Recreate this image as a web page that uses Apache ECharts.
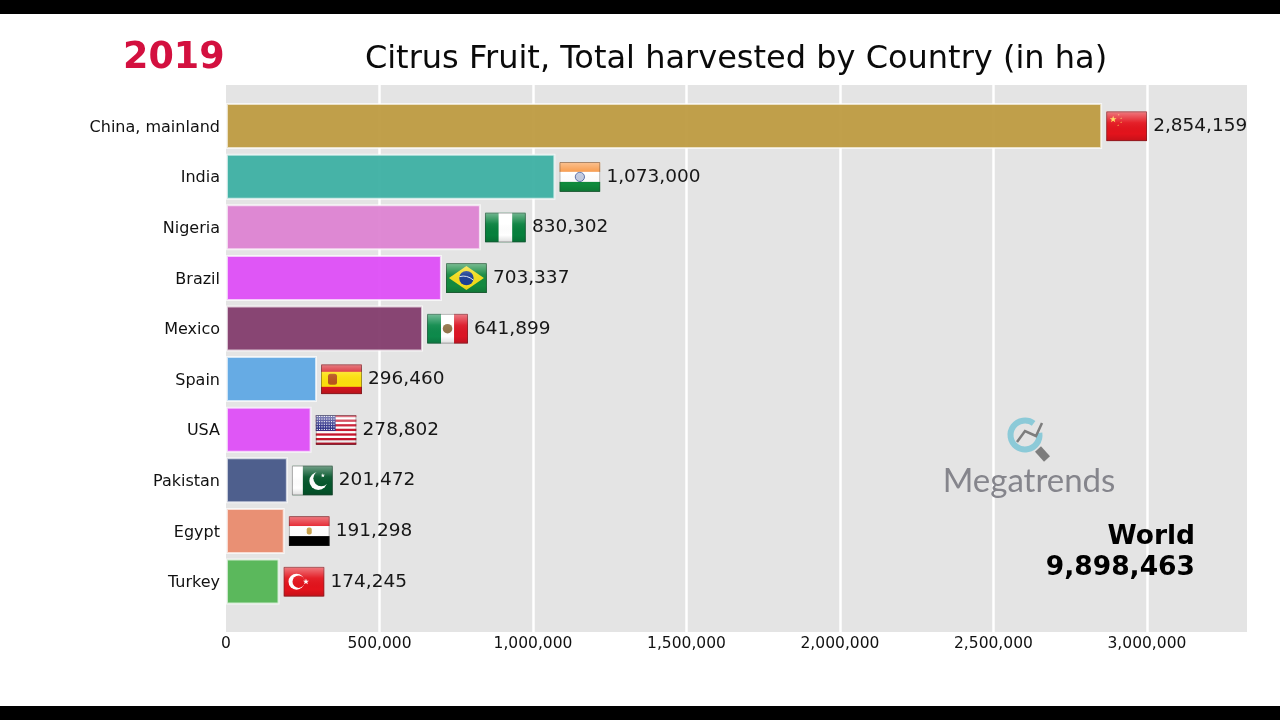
<!DOCTYPE html>
<html>
<head>
<meta charset="utf-8">
<style>html,body{margin:0;background:#fff}#chart{width:1280px;height:720px}</style>
<script src="https://cdn.jsdelivr.net/npm/echarts@6/dist/echarts.min.js"></script>
</head>
<body>
<div id="chart"></div>
<script>
const year = '2019';
const titleText = 'Citrus Fruit, Total harvested by Country (in ha)';
const worldLabel = 'World';
const worldTotal = 9898463;
const countries = ['China, mainland', 'India', 'Nigeria', 'Brazil', 'Mexico', 'Spain', 'USA', 'Pakistan', 'Egypt', 'Turkey'];
const harvested = [2854159, 1073000, 830302, 703337, 641899, 296460, 278802, 201472, 191298, 174245];
const barColors = ['#BD9A40', '#3BAFA3', '#DD82D1', '#DE4DF7', '#823A6B', '#5EA7E3', '#DE4DF7', '#445687', '#E98A6C', '#52B553'];
const axisMax = 3326000;
const tickStep = 500000;

// Small glossy flag artwork, one inline SVG body per country.
const star = (cx, cy, r, fill) => {
  let d = '';
  for (let i = 0; i < 10; i++) {
    const a = -Math.PI / 2 + i * Math.PI / 5, q = i % 2 ? r * 0.4 : r;
    d += (i ? 'L' : 'M') + (cx + q * Math.cos(a)).toFixed(2) + ' ' + (cy + q * Math.sin(a)).toFixed(2);
  }
  return `<path d="${d}z" fill="${fill}"/>`;
};
const chinaStars = star(7, 8, 3.6, '#ffd84a') + star(12.5, 3.5, 1, '#f6b04a') + star(15, 7, 1, '#f6b04a') + star(15, 11, 1, '#f6b04a') + star(12, 14, 1, '#f6b04a');
let usStripes = '';
for (let i = 0; i < 7; i++) usStripes += `<rect y="${i * 30 / 6.5}" width="41" height="${30 / 13}" fill="#c8142c"/>`;
let usDots = '';
for (let r = 0; r < 6; r++) for (let c = 0; c < 8; c++) usDots += `<rect x="${1 + c * 2.4}" y="${1 + r * 2.6}" width="1.1" height="1.1" fill="#fff"/>`;
const flagBodies = [
  `<rect width="41" height="30" fill="#e3131c"/>${chinaStars}`,
  `<rect width="41" height="10" fill="#f7913a"/><rect y="10" width="41" height="10" fill="#fff"/><rect y="20" width="41" height="10" fill="#0f8a3c"/><circle cx="20.5" cy="15" r="4.6" fill="#c3cbe0" stroke="#5a6fa8" stroke-width="1"/>`,
  `<rect width="41" height="30" fill="#06803c"/><rect x="13.7" width="13.6" height="30" fill="#fff"/>`,
  `<rect width="41" height="30" fill="#14893f"/><path d="M20.5 3 38 15 20.5 27 3 15z" fill="#f3dc1c"/><circle cx="20.5" cy="15" r="7.2" fill="#1c3f94"/><path d="M13.6 13.5Q21 11.5 27.5 17" fill="none" stroke="#dfe6f2" stroke-width="1"/>`,
  `<rect width="14" height="30" fill="#0d8a4b"/><rect x="14" width="13" height="30" fill="#fff"/><rect x="27" width="14" height="30" fill="#dc1525"/><circle cx="20.5" cy="15" r="4.8" fill="#93744a"/>`,
  `<rect width="41" height="30" fill="#d4151f"/><rect y="7.5" width="41" height="15" fill="#fce00c"/><rect x="7" y="9.5" width="9" height="11" rx="2.5" fill="#b9541c"/>`,
  `<rect width="41" height="30" fill="#fff"/>${usStripes}<rect width="20" height="16" fill="#2a2c86"/>${usDots}`,
  `<rect width="41" height="30" fill="#04562b"/><rect width="11" height="30" fill="#fff"/><circle cx="26.5" cy="15.5" r="9" fill="#fff"/><circle cx="29.5" cy="12.8" r="8" fill="#04562b"/>${star(31, 10, 2.2, '#fff')}`,
  `<rect width="41" height="10" fill="#e3141f"/><rect y="10" width="41" height="10" fill="#fff"/><rect y="20" width="41" height="10" fill="#000"/><rect x="18" y="11.5" width="5" height="7" rx="2" fill="#c9a24a"/>`,
  `<rect width="41" height="30" fill="#e3131c"/><circle cx="13" cy="15" r="8" fill="#fff"/><circle cx="15.2" cy="15" r="6.2" fill="#e3131c"/>${star(22.5, 15, 3.2, '#fff')}`
];

function flagImage(body) {
  const svg = `<svg xmlns="http://www.w3.org/2000/svg" width="41" height="30" viewBox="0 0 41 30">` +
    `<defs><linearGradient id="g" x1="0" y1="0" x2="0" y2="1"><stop offset="0" stop-color="#fff" stop-opacity=".45"/><stop offset=".38" stop-color="#fff" stop-opacity=".06"/><stop offset=".75" stop-color="#000" stop-opacity="0"/><stop offset="1" stop-color="#000" stop-opacity=".14"/></linearGradient></defs>` +
    body + `<rect width="41" height="30" fill="url(#g)"/><rect x=".5" y=".5" width="40" height="29" rx="1" fill="none" stroke="#333" stroke-opacity=".45"/></svg>`;
  return 'data:image/svg+xml;charset=utf-8,' + encodeURIComponent(svg);
}

const fmt = v => v.toLocaleString('en-US');
const font = 'DejaVu Sans';
const chart = echarts.init(document.getElementById('chart'));

chart.setOption({
  animation: false,
  backgroundColor: '#fff',
  title: [
    { text: year, left: 118, top: 35, textStyle: { fontFamily: font, fontSize: 36.5, fontWeight: 'bold', color: '#D3103F' } },
    { text: titleText, left: 731, top: 39, textAlign: 'center', textStyle: { fontFamily: font, fontSize: 32, fontWeight: 'normal', color: '#0a0a0a' } }
  ],
  // Panel with the value axis, the bars, and the country names sitting a touch lower than the bars.
  grid: [
    { left: 226, top: 85, width: 1021, height: 547, show: true, backgroundColor: '#E4E4E4', borderWidth: 0 },
    { left: 226, top: 100.8, width: 1021, height: 506 },
    { left: 226, top: 102.3, width: 1021, height: 506 }
  ],
  xAxis: [
    {
      gridIndex: 0, type: 'value', min: 0, max: axisMax, interval: tickStep,
      axisLine: { show: false }, axisTick: { show: false },
      axisLabel: { showMaxLabel: false, margin: 4, formatter: fmt, fontFamily: font, fontSize: 15.5, color: '#111' },
      splitLine: { showMinLine: false, showMaxLine: false, lineStyle: { color: '#fff', width: 2.5 } }
    },
    { gridIndex: 1, type: 'value', min: 0, max: axisMax, show: false },
    { gridIndex: 2, type: 'value', min: 0, max: axisMax, show: false }
  ],
  yAxis: [
    { gridIndex: 0, type: 'value', show: false, splitLine: { show: false } },
    { gridIndex: 1, type: 'category', inverse: true, data: countries, show: false },
    {
      gridIndex: 2, type: 'category', inverse: true, data: countries,
      axisLine: { show: false }, axisTick: { show: false },
      axisLabel: { margin: 6, fontFamily: font, fontSize: 16, color: '#111' }
    }
  ],
  series: [
    {
      type: 'bar', xAxisIndex: 1, yAxisIndex: 1, barWidth: 46,
      data: harvested.map((v, i) => ({
        value: v,
        itemStyle: { color: barColors[i], opacity: 0.94, borderColor: 'rgba(255,255,255,0.72)', borderWidth: 2 }
      })),
      label: {
        show: true, position: 'right', distance: 51, offset: [0, 0.3],
        formatter: p => fmt(p.value), fontFamily: font, fontSize: 18.5, color: '#0a0a0a'
      }
    },
    {
      type: 'custom', xAxisIndex: 1, yAxisIndex: 1, silent: true, z: 3,
      encode: { x: 0, y: 1 },
      data: harvested.map((v, i) => [v, i]),
      renderItem: (params, api) => {
        const p = api.coord([api.value(0), api.value(1)]);
        return {
          type: 'image',
          style: { image: flagImage(flagBodies[params.dataIndex]), x: p[0] + 4, y: p[1] - 14.8, width: 41, height: 30 }
        };
      }
    }
  ],
  graphic: [
    { type: 'rect', shape: { x: 0, y: 0, width: 1280, height: 14 }, style: { fill: '#000' } },
    { type: 'rect', shape: { x: 0, y: 706, width: 1280, height: 14 }, style: { fill: '#000' } },
    // brand mark: magnifier with a trend line inside
    { type: 'arc', shape: { cx: 1025, cy: 435, r: 14.5, startAngle: -0.15, endAngle: 5.35, clockwise: true }, style: { stroke: '#8CCAD8', lineWidth: 6, fill: 'none' }, z: 5 },
    { type: 'polyline', shape: { points: [[1017, 442], [1025, 431], [1036, 436], [1042, 423]] }, style: { stroke: '#7d7d7d', lineWidth: 2.5, fill: 'none' }, z: 6 },
    { type: 'line', shape: { x1: 1038, y1: 449, x2: 1047, y2: 459 }, style: { stroke: '#7d7d7d', lineWidth: 8 }, z: 6 },
    { type: 'text', style: { text: 'Megatrends', x: 1029, y: 481, align: 'center', verticalAlign: 'middle', font: '33px Lato', fill: '#85858C' }, z: 6 },
    { type: 'text', style: { text: worldLabel, x: 1195, y: 537, align: 'right', verticalAlign: 'middle', font: 'bold 26.5px "DejaVu Sans"', fill: '#000' }, z: 6 },
    { type: 'text', style: { text: fmt(worldTotal), x: 1195, y: 568.5, align: 'right', verticalAlign: 'middle', font: 'bold 26.5px "DejaVu Sans"', fill: '#000' }, z: 6 }
  ]
});
</script>
</body>
</html>
